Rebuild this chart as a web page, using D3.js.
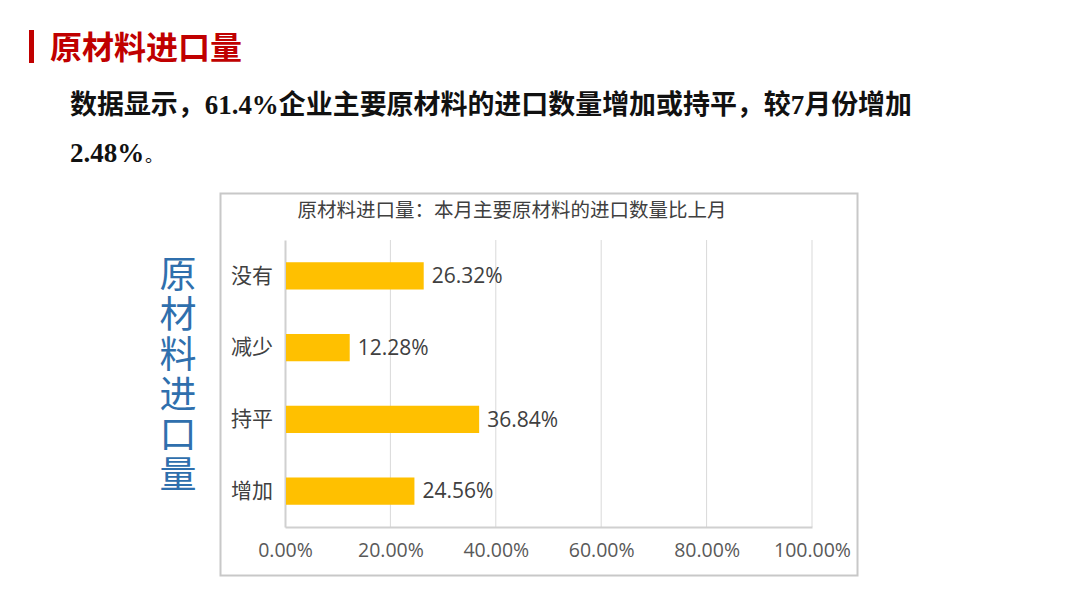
<!DOCTYPE html>
<html>
<head>
<meta charset="utf-8">
<script src="https://cdn.jsdelivr.net/npm/d3@7"></script>
<style>
  body { margin: 0; background: #fff; }
  svg text { font-family: "Noto Sans CJK SC", "Open Sans", sans-serif; }
</style>
</head>
<body>
<div id="chart"></div>
<script>
// data
const categories = ['没有', '减少', '持平', '增加'];
const shares = [26.32, 12.28, 36.84, 24.56];
const xTicks = [0, 20, 40, 60, 80, 100];

const pageTitle = '原材料进口量';
const chartTitle = '原材料进口量：本月主要原材料的进口数量比上月';
const sideLabel = '原材料进口量';

const W = 1080, H = 607;
const svg = d3.select('#chart').append('svg')
	.attr('width', W)
	.attr('height', H);

// page header
svg.append('rect')
	.attr('x', 29).attr('y', 30).attr('width', 5).attr('height', 33)
	.style('fill', '#c00000');
svg.append('text')
	.attr('x', 50).attr('y', 59)
	.style('font-size', '32px')
	.style('font-weight', 'bold')
	.style('fill', '#c00000')
	.text(pageTitle);

// body text
svg.append('text')
	.attr('x', 70).attr('y', 114)
	.style('font-family', '"Liberation Serif", "Noto Sans CJK SC", serif')
	.style('font-size', '27px')
	.style('font-weight', 'bold')
	.style('fill', '#111')
	.attr('textLength', 842)
	.attr('lengthAdjust', 'spacingAndGlyphs')
	.text('数据显示，61.4%企业主要原材料的进口数量增加或持平，较7月份增加');
svg.append('text')
	.attr('x', 70).attr('y', 162)
	.style('font-family', '"Liberation Serif", "Noto Sans CJK SC", serif')
	.style('font-size', '27px')
	.style('font-weight', 'bold')
	.style('fill', '#111')
	.text('2.48%');
svg.append('text')
	.attr('x', 145).attr('y', 162)
	.style('font-size', '18px')
	.style('fill', '#111')
	.text('。');

// vertical side label
svg.append('text')
	.attr('x', 178)
	.attr('y', 255)
	.style('writing-mode', 'vertical-rl')
	.style('letter-spacing', '3px')
	.style('font-size', '37px')
	.style('fill', '#2f6fad')
	.text(sideLabel);

// chart frame
svg.append('rect')
	.attr('x', 220.5).attr('y', 193.5).attr('width', 637).attr('height', 382)
	.style('fill', '#fff')
	.style('stroke', '#c8c8c8')
	.style('stroke-width', 2);

svg.append('text')
	.attr('x', 512).attr('y', 217)
	.attr('text-anchor', 'middle')
	.style('font-size', '19.5px')
	.style('fill', '#404040')
	.text(chartTitle);

const m = {left: 285, right: 812, top: 240, bottom: 527};

const xScale = d3.scaleLinear()
	.domain([0, 100])
	.range([m.left, m.right]);

const yScale = d3.scaleBand()
	.domain(categories)
	.range([m.top, m.bottom])
	.paddingInner(0.62)
	.paddingOuter(0.31);

// gridlines
svg.append('g')
	.selectAll('line')
	.data(xTicks.slice(1))
	.join('line')
	.attr('x1', d => xScale(d)).attr('x2', d => xScale(d))
	.attr('y1', m.top).attr('y2', m.bottom)
	.style('stroke', '#d9d9d9')
	.style('stroke-width', 1);

// x axis
const xAxis = svg.append('g')
	.attr('transform', 'translate(0,' + m.bottom + ')')
	.call(d3.axisBottom(xScale)
		.tickValues(xTicks)
		.tickSize(0)
		.tickPadding(16)
		.tickFormat(d => d.toFixed(2) + '%'));
xAxis.select('.domain').style('stroke', '#d0d0d0').style('stroke-width', 2);
xAxis.selectAll('text')
	.style('font-family', '"Open Sans", "Noto Sans", sans-serif')
	.style('font-size', '19.5px')
	.style('fill', '#595959');

// y axis
const yAxis = svg.append('g')
	.attr('transform', 'translate(' + m.left + ',0)')
	.call(d3.axisLeft(yScale).tickSize(0).tickPadding(12));
yAxis.select('.domain').style('stroke', '#d0d0d0').style('stroke-width', 2);
yAxis.selectAll('text')
	.style('font-size', '21px')
	.style('fill', '#404040');

// bars
svg.append('g')
	.selectAll('rect')
	.data(categories)
	.join('rect')
	.attr('x', xScale(0) + 1)
	.attr('y', d => yScale(d))
	.attr('width', (d, i) => xScale(shares[i]) - xScale(0) - 1)
	.attr('height', yScale.bandwidth())
	.style('fill', '#ffc000');

// value labels
svg.append('g')
	.selectAll('text')
	.data(categories)
	.join('text')
	.attr('x', (d, i) => xScale(shares[i]) + 8)
	.attr('y', d => yScale(d) + yScale.bandwidth() / 2)
	.attr('dy', '0.35em')
	.style('font-family', '"Open Sans", "Noto Sans", sans-serif')
	.style('font-size', '21px')
	.style('fill', '#404040')
	.text((d, i) => shares[i].toFixed(2) + '%');
</script>
</body>
</html>
